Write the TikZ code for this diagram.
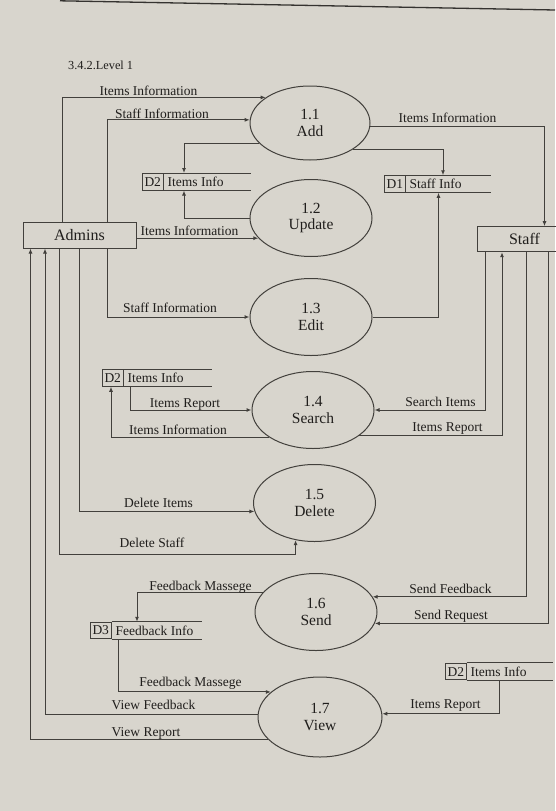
\documentclass[tikz,border=0pt]{standalone}
\usepackage{fontspec}
\setmainfont{Liberation Serif}
\usetikzlibrary{shapes.geometric,arrows.meta,calc}
\definecolor{paper}{RGB}{216,213,205}
\definecolor{ink}{RGB}{66,64,60}
\definecolor{txt}{RGB}{32,30,28}
\newcommand\dstore[6]{%
  \node[cell] (#1id) at (#2,#3) {#4};
  \node[stext] (#1) at (#1id.east) {#5};
  \draw[line] (#1id.north east) -- ++(#6,0) (#1id.south east) -- ++(#6,0);}
\begin{document}
\begin{tikzpicture}[x=1pt,y=-1pt,
  line/.style={draw=ink,line width=1pt},
  arr/.style={line,-{Latex[length=5pt,width=4pt]}},
  proc/.style={ellipse,draw=ink,line width=1pt,minimum width=122,minimum height=77,inner sep=0,align=center,font=\fontsize{15.5}{16.5}\selectfont,text=txt},
  ent/.style={rectangle,draw=ink,line width=1pt,inner sep=0,font=\fontsize{16}{18}\selectfont,text=txt},
  lab/.style={anchor=base,inner sep=0,font=\fontsize{13.5}{15}\selectfont,text=txt},
  cell/.style={rectangle,draw=ink,line width=1pt,minimum height=16.5,inner xsep=2,inner ysep=0,anchor=west,font=\fontsize{13.5}{15}\selectfont,text=txt},
  stext/.style={anchor=west,minimum height=16.5,inner xsep=4,inner ysep=0,font=\fontsize{13.5}{15}\selectfont,text=txt}]
\useasboundingbox[fill=paper] (0,0) rectangle (555,811);
\draw[draw=ink!80!black,line width=1.3pt] (60,0.8) -- (555,10);

\node[anchor=base west,inner sep=0,font=\fontsize{12.3}{14}\selectfont,text=txt] (title) at (68,69) {3.4.2.Level 1};

% entities
\node[ent,minimum width=113,minimum height=26] (admins) at (79.5,235) {Admins};
\node[ent,minimum width=95,minimum height=25] (staff) at (524.5,239.2) {Staff};

% processes
\node[proc,minimum width=120,minimum height=74] (E11) at (310,123) {1.1\\Add};
\node[proc] (E12) at (311,218) {1.2\\Update};
\node[proc] (E13) at (311,317) {1.3\\Edit};
\node[proc] (E14) at (313,410) {1.4\\Search};
\node[proc] (E15) at (314.5,503) {1.5\\Delete};
\node[proc] (E16) at (316,612) {1.6\\Send};
\node[proc,minimum width=124,minimum height=80] (E17) at (320,717) {1.7\\View};

% data stores
\dstore{d2a}{142}{181.75}{D2}{Items Info}{87.5}
\dstore{d1}{384}{184}{D1}{Staff Info}{85.5}
\dstore{d2b}{102}{378}{D2}{Items Info}{88.5}
\dstore{d3}{90}{630.5}{D3}{Feedback Info}{90.5}
\dstore{d2c}{445}{671.7}{D2}{Items Info}{86.5}

% connectors
\draw[arr] ($(admins.north west)+(40,0)$) |- (E11.150);
\draw[arr] ($(admins.north west)+(85,0)$) |- (E11.177);
\draw[arr] (E11.-3) -| ($(staff.north west)+(68,0)$);
\draw[arr] (E11.202) -| ($(d2aid.north west)+(42,0)$);
\draw[arr] (E12.west) -| ($(d2aid.south west)+(42,0)$);
\draw[arr] (admins.east |- E12.201) -- (E12.201);
\draw[arr] (E11.-31) -| ($(d1id.north west)+(59,0)$);
\draw[arr] (E13.east) -| ($(d1id.south west)+(54.5,0)$);
\draw[arr] ($(admins.south west)+(85,0)$) |- (E13.west);
\draw[arr] ($(staff.south west)+(9,0)$) |- (E14.east);
\draw[arr] (E14.-29) -| ($(staff.south west)+(25.5,0)$);
\draw[arr] ($(d2bid.south west)+(28,0)$) |- (E14.west);
\draw[arr] (E14.212) -| ($(d2bid.south west)+(9,0)$);
\draw[arr] ($(admins.south west)+(56.5,0)$) |- (E15.188);
\draw[arr] ($(admins.south west)+(36.5,0)$) |- ($(E15.243)+(0,14)$) -- (E15.243);
\draw[arr] ($(staff.south west)+(50,0)$) |- (E16.15);
\draw[arr] ($(staff.south west)+(72,0)$) |- (E16.-11);
\draw[arr] (E16.160) -| ($(d3id.north west)+(47,0)$);
\draw[arr] ($(d3id.south west)+(28,0)$) |- (E17.153);
\draw[arr] (E17.178) -| ($(admins.south west)+(22.5,0)$);
\draw[arr] (E17.203) -| ($(admins.south west)+(8,0)$);
\draw[arr] ($(d2cid.south west)+(54,0)$) |- (E17.3);

% labels
\node[lab] (l1) at (148.5,95.5) {Items Information};
\node[lab] (l2) at (162,118) {Staff Information};
\node[lab] (l3) at (447.5,122.5) {Items Information};
\node[lab] (l4) at (189.5,235) {Items Information};
\node[lab] (l5) at (170,312) {Staff Information};
\node[lab] (l6) at (440.5,406) {Search Items};
\node[lab] (l7) at (447.5,431) {Items Report};
\node[lab] (l8) at (185,407) {Items Report};
\node[lab] (l9) at (178,434.5) {Items Information};
\node[lab] (l10) at (158.5,507.5) {Delete Items};
\node[lab] (l11) at (152,547) {Delete Staff};
\node[lab] (l12) at (450.5,593) {Send Feedback};
\node[lab] (l13) at (451,619) {Send Request};
\node[lab] (l14) at (200.5,590.5) {Feedback Massege};
\node[lab] (l15) at (190.5,686.5) {Feedback Massege};
\node[lab] (l16) at (153.5,709) {View Feedback};
\node[lab] (l17) at (146,736) {View Report};
\node[lab] (l18) at (445.5,708) {Items Report};
\end{tikzpicture}
\end{document}
